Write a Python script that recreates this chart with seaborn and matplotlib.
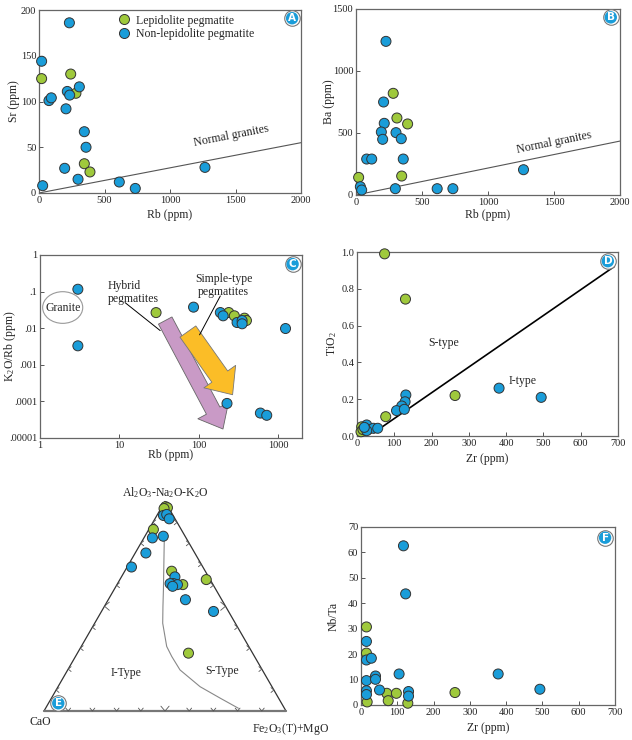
import numpy as np
import pandas as pd
import matplotlib
matplotlib.use("Agg")
import matplotlib.pyplot as plt
from matplotlib.patches import Ellipse
import seaborn as sns

# colours of the two groups
GREEN = "#9fc93c"
BLUE = "#1a9dd9"
LEP = "Lepidolite pegmatite"
NON = "Non-lepidolite pegmatite"

# ---- data ----
# A: Rb vs Sr
a_rb_lep = [20, 242, 282, 346, 389]
a_sr_lep = [125, 130, 109, 32, 23]
a_rb_non = [232, 20, 76, 94, 216, 308, 234, 206, 346, 359, 196, 298, 28, 613, 735, 1267]
a_sr_non = [186, 144, 101, 104, 111, 116, 107, 92, 67, 50, 27, 15, 8, 12, 5, 28]
a_granite_rb = [0, 2000]
a_granite_sr = [0, 55]

# B: Rb vs Ba
b_rb_lep = [20, 282, 310, 391, 346]
b_ba_lep = [142, 820, 621, 573, 153]
b_rb_non = [227, 209, 214, 192, 202, 303, 343, 81, 119, 358, 33, 43, 298, 615, 734, 1269]
b_ba_non = [1239, 750, 578, 508, 449, 503, 454, 290, 290, 290, 67, 40, 51, 51, 51, 204]
b_granite_rb = [0, 2000]
b_granite_ba = [0, 435]

# C: Rb vs K2O/Rb (log-log)
c_rb_lep = [29, 239, 281, 377, 399]
c_k_lep = [0.0267, 0.0268, 0.0218, 0.0188, 0.0162]
c_rb_non = [3, 3, 86, 187, 203, 304, 352, 352, 1240, 227, 598, 719]
c_k_non = [0.116, 0.0033, 0.0376, 0.0268, 0.0218, 0.0143, 0.0162, 0.0132,
           0.0098, 0.000088, 0.000048, 0.0000417]

# D: Zr vs TiO2
d_zr_lep = [74, 130, 263, 77, 12.5, 10.7, 16]
d_ti_lep = [0.99, 0.744, 0.22, 0.105, 0.05, 0.023, 0.035]
d_zr_non = [131, 129, 120, 106, 127, 381, 494, 26, 30, 44, 55.5, 26, 19.6]
d_ti_non = [0.223, 0.186, 0.163, 0.138, 0.145, 0.26, 0.21, 0.06, 0.036, 0.042, 0.042, 0.029, 0.047]
d_line_zr = [45, 690]
d_line_ti = [0.018, 0.921]

# E: ternary A (Al2O3-Na2O-K2O), C (CaO), F (Fe2O3(T)+MgO), in %
e_a_lep = [97.5, 97.0, 96.6, 86.6, 66.7, 60.3, 62.7, 27.6]
e_c_lep = [1.0, 0.5, 2.1, 11.5, 13.9, 12.5, 1.6, 26.5]
e_f_lep = [1.5, 2.5, 1.3, 1.9, 19.4, 27.2, 35.7, 45.9]
e_a_non = [93.3, 93.8, 91.7, 82.6, 83.4, 75.4, 68.7, 64.0, 60.8, 60.8, 60.3, 59.5, 53.1, 47.5]
e_c_non = [4.0, 2.4, 2.4, 13.9, 9.0, 20.2, 29.5, 13.9, 16.1, 17.5, 14.7, 17.1, 15.0, 6.2]
e_f_non = [2.7, 3.8, 5.9, 3.5, 7.6, 4.4, 1.8, 22.1, 23.1, 21.7, 25.0, 23.4, 31.9, 46.3]
# I/S boundary
e_bound_a = [81.8, 57.9, 49.9, 41.9, 30.8, 26.0, 19.6, 11.6, 6.1, 1.3]
e_bound_f = [8.8, 20.4, 24.2, 28.1, 35.3, 39.8, 46.4, 58.7, 69.8, 79.7]

# F: Zr vs Nb/Ta
f_zr_lep = [15, 15, 17, 71, 75, 97.5, 129, 259]
f_nbta_lep = [30.7, 20.4, 1.2, 4.6, 1.7, 4.6, 0.7, 4.9]
f_zr_non = [117, 123, 15, 15, 28.5, 15, 15, 15, 40, 40, 51, 105, 131, 131, 378, 493]
f_nbta_non = [62.6, 43.7, 25, 17.7, 18.4, 9.6, 5.6, 4.1, 11.4, 10.1, 5.9, 12.2, 5.3, 3.5, 12.2, 6.2]

# ---- style ----
sns.set_style("ticks")
plt.rcParams["font.family"] = ["Liberation Serif", "DejaVu Serif"]
plt.rcParams["mathtext.fontset"] = "custom"
plt.rcParams["mathtext.rm"] = "Liberation Serif"
plt.rcParams["mathtext.it"] = "Liberation Serif:italic"
plt.rcParams["axes.edgecolor"] = "#666666"
plt.rcParams["axes.linewidth"] = 0.9
plt.rcParams["xtick.direction"] = "in"
plt.rcParams["ytick.direction"] = "in"
plt.rcParams["xtick.color"] = "#555555"
plt.rcParams["ytick.color"] = "#555555"
plt.rcParams["xtick.labelcolor"] = "#222222"
plt.rcParams["ytick.labelcolor"] = "#222222"
plt.rcParams["xtick.labelsize"] = 7.5
plt.rcParams["ytick.labelsize"] = 7.5

PAL = {LEP: GREEN, NON: BLUE}
LAB = 8.5


def make_df(x_lep, y_lep, x_non, y_non):
    # green first so the blue circles sit on top
    return pd.DataFrame({
        "x": list(x_lep) + list(x_non),
        "y": list(y_lep) + list(y_non),
        "grp": [LEP] * len(x_lep) + [NON] * len(x_non),
    })


def dots(ax, df, legend=False):
    sns.scatterplot(data=df, x="x", y="y", hue="grp", palette=PAL, s=52,
                    edgecolor="#333333", linewidth=0.7, ax=ax, legend=legend,
                    zorder=5, clip_on=False)


def badge(ax, x, y, letter, transform=None):
    if transform is None:
        transform = ax.transAxes
    ax.scatter([x], [y], s=125, c="white", edgecolors="#777777", linewidths=0.8,
               transform=transform, clip_on=False, zorder=20)
    ax.scatter([x], [y], s=80, c=BLUE, edgecolors="none",
               transform=transform, clip_on=False, zorder=21)
    ax.text(x, y, letter, color="white", fontsize=7.5, fontweight="bold",
            family="DejaVu Sans", ha="center", va="center",
            transform=transform, zorder=22)


def labels(ax, xl, yl, xpos, ypos):
    # xpos = top of x label, ypos = right edge of y label (axes fraction)
    ax.set_xlabel(xl, fontsize=LAB)
    ax.set_ylabel(yl, fontsize=LAB)
    ax.xaxis.set_label_coords(0.5, xpos)
    ax.yaxis.set_label_coords(ypos, 0.5)


fig = plt.figure(figsize=(6.32, 7.40), dpi=100)
W, H = 632.0, 740.0


def box(l, t, r, b):
    return [l / W, 1 - b / H, (r - l) / W, (b - t) / H]


# ---------- A ----------
axA = fig.add_axes(box(39, 10, 301, 193))
dots(axA, make_df(a_rb_lep, a_sr_lep, a_rb_non, a_sr_non), legend=True)
axA.plot(a_granite_rb, a_granite_sr, color="#555555", lw=0.8, zorder=2)
axA.text(1470, 62, "Normal granites", fontsize=LAB, rotation=11,
         ha="center", va="center")
axA.set_xlim(0, 2000)
axA.set_ylim(0, 200)
axA.set_xticks([0, 500, 1000, 1500, 2000])
axA.set_yticks([0, 50, 100, 150, 200])
labels(axA, "Rb (ppm)", "Sr (ppm)", -0.087, -0.073)
h, l = axA.get_legend_handles_labels()
axA.legend(h, l, loc="upper left", bbox_to_anchor=(0.30, 0.975), frameon=False,
           fontsize=LAB, handlelength=1.0, handletextpad=0.6, labelspacing=0.15,
           borderpad=0, borderaxespad=0)
badge(axA, 0.966, 0.955, "A")

# ---------- B ----------
axB = fig.add_axes(box(356, 9, 620, 195))
dots(axB, make_df(b_rb_lep, b_ba_lep, b_rb_non, b_ba_non))
axB.plot(b_granite_rb, b_granite_ba, color="#555555", lw=0.8, zorder=2)
axB.text(1500, 420, "Normal granites", fontsize=LAB, rotation=11.5,
         ha="center", va="center")
axB.set_xlim(0, 2000)
axB.set_ylim(0, 1500)
axB.set_xticks([0, 500, 1000, 1500, 2000])
axB.set_yticks([0, 500, 1000, 1500])
labels(axB, "Rb (ppm)", "Ba (ppm)", -0.075, -0.08)
badge(axB, 0.965, 0.955, "B")

# ---------- C ----------
axC = fig.add_axes(box(40, 255, 302, 438))
axC.set_xscale("log")
axC.set_yscale("log")
axC.annotate("", xy=(202, 1.76e-5), xytext=(37.8, 0.0162),
             arrowprops=dict(arrowstyle="simple,tail_width=11,head_width=25,head_length=15",
                             mutation_scale=1, fc="#c99ac6", ec="#666666", lw=0.6,
                             shrinkA=0, shrinkB=0), zorder=3)
axC.annotate("", xy=(267, 1.52e-4), xytext=(73, 0.0081),
             arrowprops=dict(arrowstyle="simple,tail_width=14,head_width=28,head_length=16",
                             mutation_scale=1, fc="#fbbd27", ec="#777777", lw=0.6,
                             shrinkA=0, shrinkB=0), zorder=3)
dots(axC, make_df(c_rb_lep, c_k_lep, c_rb_non, c_k_non))
axC.plot([11.8, 32.7], [0.05, 0.0086], color="black", lw=0.7, zorder=4)
axC.plot([187, 102.5], [0.076, 0.0066], color="black", lw=0.7, zorder=4)
axC.text(7.08, 0.095, "Hybrid\npegmatites", fontsize=LAB, ha="left", va="center",
         linespacing=1.05)
axC.text(206, 0.147, "Simple-type\npegmatites", fontsize=LAB, ha="center", va="center",
         linespacing=1.05)
axC.add_patch(Ellipse((0.0866, 0.713), 0.153, 0.173, transform=axC.transAxes,
                      fc="none", ec="#999999", lw=0.8))
axC.text(0.0866, 0.713, "Granite", fontsize=LAB, ha="center", va="center",
         transform=axC.transAxes)
axC.set_xlim(1, 2000)
axC.set_ylim(1e-5, 1)
axC.set_xticks([1, 10, 100, 1000])
axC.set_xticklabels(["1", "10", "100", "1000"])
axC.set_yticks([1e-5, 1e-4, 1e-3, 1e-2, 1e-1, 1])
axC.set_yticklabels([".00001", ".0001", ".001", ".01", ".1", "1"])
axC.minorticks_off()
labels(axC, "Rb (ppm)", r"K$\mathregular{_2}$O/Rb (ppm)", -0.06, -0.085)
badge(axC, 0.964, 0.95, "C")

# ---------- D ----------
axD = fig.add_axes(box(357, 252, 618, 436))
axD.plot(d_line_zr, d_line_ti, color="black", lw=1.2, zorder=2)
dots(axD, make_df(d_zr_lep, d_ti_lep, d_zr_non, d_ti_non))
axD.text(233, 0.507, "S-type", fontsize=LAB, ha="center", va="center")
axD.text(445, 0.299, "I-type", fontsize=LAB, ha="center", va="center")
axD.set_xlim(0, 700)
axD.set_ylim(0, 1.0)
axD.set_xticks(np.arange(0, 701, 100))
axD.set_yticks(np.arange(0, 1.01, 0.2))
axD.set_yticklabels([f"{v:.1f}" for v in np.arange(0, 1.01, 0.2)])
labels(axD, "Zr (ppm)", r"TiO$\mathregular{_2}$", -0.092, -0.069)
badge(axD, 0.961, 0.95, "D")

# ---------- E (ternary) ----------
SQ = np.sqrt(3) / 2
axE = fig.add_axes(box(20, 485, 330, 740))
axE.set_xlim((20 - 44) / 242, (330 - 44) / 242)
axE.set_ylim(-(740 - 711) / 242, (711 - 485) / 242)
axE.axis("off")


def tern(a, c, f):
    a = np.asarray(a, float)
    c = np.asarray(c, float)
    f = np.asarray(f, float)
    tot = a + c + f
    return (f + a / 2) / tot, a * SQ / tot


axE.plot([0, 0.5, 1], [0, SQ, 0], color="#333333", lw=0.9, zorder=2)
axE.plot([0, 1], [0, 0], color="#777777", lw=1.6, zorder=2)
for i in range(1, 10):
    t = i / 10
    hh, ww = (0.02, 0.017) if i == 5 else (0.012, 0.01)
    axE.plot([t - ww, t, t + ww], [hh, 0, hh], color="#555555", lw=0.6)
    px, py = t * 0.5, t * SQ
    axE.plot([px + hh, px, px + hh], [py + ww, py, py - ww], color="#555555", lw=0.6)
    px, py = 1 - t * 0.5, t * SQ
    axE.plot([px - hh, px, px - hh], [py + ww, py, py - ww], color="#555555", lw=0.6)

bx, by = tern(e_bound_a, 100 - np.array(e_bound_a) - np.array(e_bound_f), e_bound_f)
axE.plot(bx, by, color="#888888", lw=0.8, zorder=2)

ex_l, ey_l = tern(e_a_lep, e_c_lep, e_f_lep)
ex_n, ey_n = tern(e_a_non, e_c_non, e_f_non)
dots(axE, make_df(ex_l, ey_l, ex_n, ey_n))
axE.text(0.5, 0.901, r"Al$\mathregular{_2}$O$\mathregular{_3}$-Na$\mathregular{_2}$O-K$\mathregular{_2}$O",
         fontsize=8.5, ha="center", va="center")
axE.text(-0.014, -0.044, "CaO", fontsize=8.5, ha="center", va="center")
axE.text(0.86, -0.074, r"Fe$\mathregular{_2}$O$\mathregular{_3}$(T)+MgO", fontsize=8.5,
         ha="left", va="center")
axE.text(0.339, 0.157, "I-Type", fontsize=LAB, ha="center", va="center")
axE.text(0.736, 0.165, "S-Type", fontsize=LAB, ha="center", va="center")
axE.set_xlabel("")
axE.set_ylabel("")
badge(axE, 0.059, 0.032, "E", transform=axE.transData)

# ---------- F ----------
axF = fig.add_axes(box(361, 527, 615, 705))
dots(axF, make_df(f_zr_lep, f_nbta_lep, f_zr_non, f_nbta_non))
axF.set_xlim(0, 700)
axF.set_ylim(0, 70)
axF.set_xticks(np.arange(0, 701, 100))
axF.set_yticks(np.arange(0, 71, 10))
labels(axF, "Zr (ppm)", "Nb/Ta", -0.095, -0.083)
badge(axF, 0.961, 0.94, "F")

for ax in (axA, axB, axC, axD, axF):
    ax.tick_params(length=3, width=0.7, pad=2)

fig.savefig("out.png", dpi=100)
